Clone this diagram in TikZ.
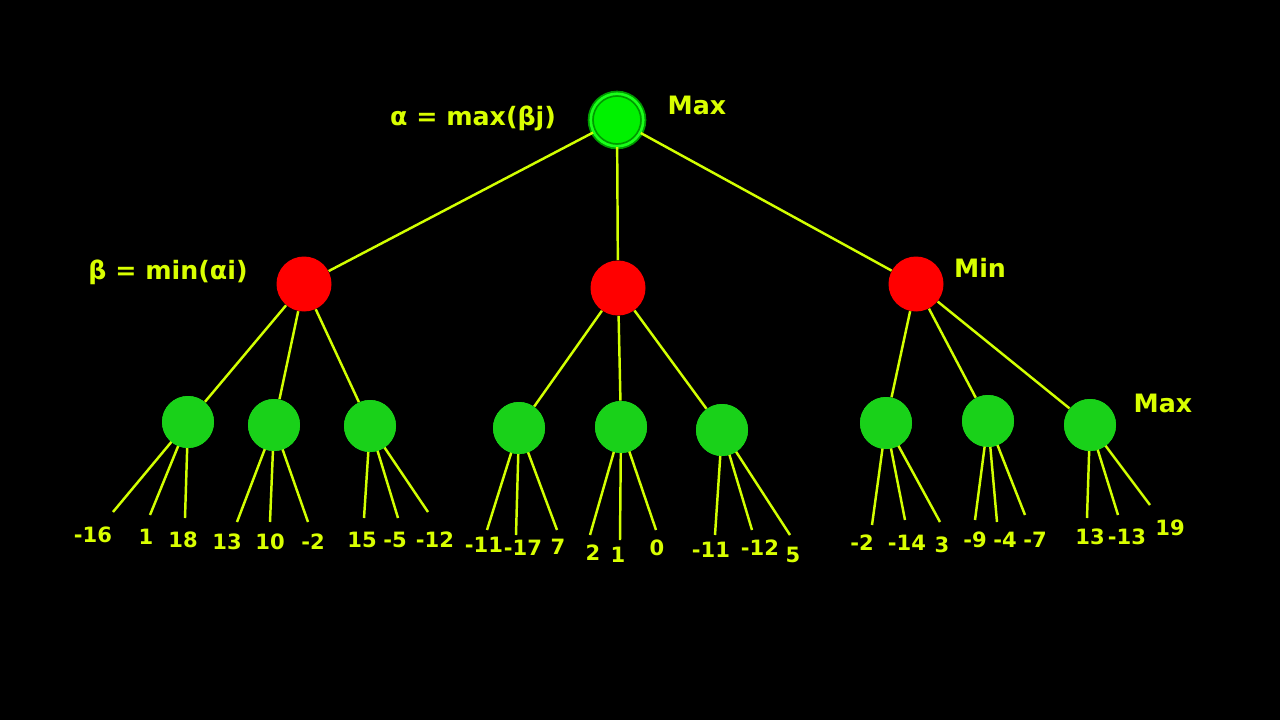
\documentclass[tikz,border=0pt]{standalone}
\usepackage{fontspec}
\setmainfont{DejaVu Sans}
\begin{document}
\begin{tikzpicture}[x=0.02cm,y=-0.02cm,
  edge/.style={draw=lime!70!yellow, line width=1.4pt},
  maxn/.style={circle, fill=green!80!black!90, minimum size=1.04cm, inner sep=0pt},
  minn/.style={circle, fill=red, minimum size=1.1cm, inner sep=0pt},
  lbl/.style={text=lime!60!yellow, font=\Large\bfseries},
  num/.style={text=lime!60!yellow, font=\large\bfseries}]
\fill[black] (0,0) rectangle (1280,720);
\useasboundingbox (0,0) rectangle (1280,720);
\node[circle, fill=green!95!black, draw=green!60!black, double=green!90, double distance=1.5pt, line width=1pt, minimum size=1.05cm, inner sep=0pt] (r) at (617,120) {};
\node[minn] (m1) at (304,284) {};
\node[minn] (m2) at (618,288) {};
\node[minn] (m3) at (916,284) {};
\foreach \m in {m1,m2,m3} \draw[edge] (r) -- (\m);
\foreach \n/\x/\y/\p in {a/188/422/m1,b/274/425/m1,c/370/426/m1,d/519/428/m2,e/621/427/m2,f/722/430/m2,g/886/423/m3,h/988/421/m3,i/1090/425/m3}{
  \node[maxn] (\n) at (\x,\y) {};
  \draw[edge] (\p) -- (\n);
}
\foreach \n/\k/\ex/\ey/\lx/\ly/\t in {
 a/1/113/512/93/535/-16, a/2/150/515/146/537/1, a/3/185/518/183/540/18,
 b/1/237/522/227/542/13, b/2/270/522/270/542/10, b/3/308/522/313/542/-2,
 c/1/364/518/362/540/15, c/2/398/518/395/540/-5, c/3/428/512/435/540/-12,
 d/1/487/530/484/545/-11, d/2/516/535/523/548/-17, d/3/557/530/558/547/7,
 e/1/590/535/593/553/2, e/2/620/540/618/555/1, e/3/656/530/657/548/0,
 f/1/715/535/711/550/-11, f/2/752/530/760/548/-12, f/3/790/535/793/555/5,
 g/1/872/525/862/543/-2, g/2/905/520/907/543/-14, g/3/940/522/942/545/3,
 h/1/975/520/975/540/-9, h/2/997/522/1005/540/-4, h/3/1025/515/1035/540/-7,
 i/1/1087/518/1090/537/13, i/2/1118/515/1127/537/-13, i/3/1150/505/1170/528/19}{
  \coordinate (\n e\k) at (\ex,\ey);
  \draw[edge] (\n.center) -- (\n e\k);
  \node[num] at (\lx,\ly) {\t};
}
\foreach \n in {a,b,c,d,e,f,g,h,i} \node[maxn] at (\n) {};
\node[lbl] (t1) at (697,105) {Max};
\node[lbl] (t2) at (980,268) {Min};
\node[lbl] (t3) at (1163,403) {Max};
\node[lbl] (t4) at (473,118) {α = max(βj)};
\node[lbl] (t5) at (168,272) {β = min(αi)};
\end{tikzpicture}
\end{document}
